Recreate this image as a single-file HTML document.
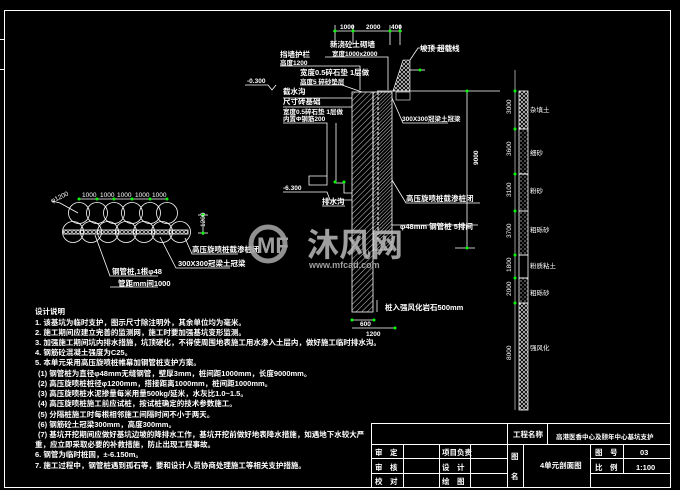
<!DOCTYPE html>
<html><head><meta charset="utf-8"><style>
html,body{margin:0;padding:0;background:#000;}
svg{display:block;}
text{font-family:"Liberation Sans","Noto Sans CJK SC",sans-serif;fill:#fff;}
.n{font-size:7.5px;font-weight:bold;}
.s{font-size:6.5px;}
</style></head><body>
<svg width="680" height="490" viewBox="0 0 680 490" xmlns="http://www.w3.org/2000/svg">
<defs>
<pattern id="h" width="4" height="4" patternUnits="userSpaceOnUse" patternTransform="rotate(45)"><line x1="0" y1="0" x2="0" y2="4" stroke="#fff" stroke-width="0.8"/></pattern>
<pattern id="h2" width="2.5" height="2.5" patternUnits="userSpaceOnUse" patternTransform="rotate(45)"><line x1="0" y1="0" x2="0" y2="2.5" stroke="#fff" stroke-width="0.8"/></pattern>
<pattern id="d" width="4" height="4" patternUnits="userSpaceOnUse"><circle cx="1" cy="1" r="0.6" fill="#fff"/><circle cx="3" cy="3" r="0.5" fill="#fff"/></pattern>
<pattern id="x" width="4" height="4" patternUnits="userSpaceOnUse"><path d="M0 0L4 4M4 0L0 4" stroke="#fff" stroke-width="0.6"/></pattern>
</defs>
<rect width="680" height="490" fill="#000"/>
<g stroke="#fff" fill="none" stroke-width="1">
<rect x="4.5" y="10.5" width="666" height="477"/>
<line x1="0" y1="39.5" x2="4" y2="39.5"/><line x1="0" y1="69.5" x2="4" y2="69.5"/>
<rect x="371.5" y="423.5" width="299" height="64"/>
<line x1="371" y1="444.5" x2="670" y2="444.5"/>
<line x1="371" y1="458.5" x2="507" y2="458.5"/><line x1="371" y1="473.5" x2="507" y2="473.5"/>
<line x1="590" y1="458.5" x2="670" y2="458.5"/><line x1="590" y1="473.5" x2="670" y2="473.5"/>
<line x1="507.5" y1="423" x2="507.5" y2="487"/><line x1="547.5" y1="423" x2="547.5" y2="444"/>
<line x1="403.5" y1="444" x2="403.5" y2="487"/><line x1="439.5" y1="444" x2="439.5" y2="487"/>
<line x1="470.5" y1="444" x2="470.5" y2="487"/><line x1="523.5" y1="444" x2="523.5" y2="487"/>
<line x1="590.5" y1="444" x2="590.5" y2="487"/><line x1="623.5" y1="444" x2="623.5" y2="473"/>
</g>
<g class="n" font-size="7">
<text x="513" y="437">工程名称</text>
<text x="556" y="439" font-size="6.5">高港医香中心及颐年中心基坑支护</text>
<text x="375" y="455">审　定</text><text x="442" y="455">项目负责</text>
<text x="375" y="470">审　核</text><text x="442" y="470">设　计</text>
<text x="375" y="484">校　对</text><text x="442" y="484">绘　图</text>
<text x="511" y="459">图</text><text x="511" y="479">名</text>
<text x="540" y="468">4单元剖面图</text>
<text x="595" y="455">图　号</text><text x="640" y="455">03</text>
<text x="595" y="470">比　例</text><text x="636" y="470">1:100</text>
</g>
<g class="n">
<text x="35" y="314">设计说明</text>
<text x="35" y="325">1. 该基坑为临时支护，图示尺寸除注明外，其余单位均为毫米。</text>
<text x="35" y="335">2. 施工期间应建立完善的监测网，施工时要加强基坑变形监测。</text>
<text x="35" y="345">3. 加强施工期间坑内排水措施，坑顶硬化，不得使周围地表施工用水渗入土层内，做好施工临时排水沟。</text>
<text x="35" y="355">4. 钢筋砼混凝土强度为C25。</text>
<text x="35" y="365">5. 本单元采用高压旋喷桩帷幕加钢管桩支护方案。</text>
<text x="38" y="376">(1) 钢管桩为直径φ48mm无缝钢管，壁厚3mm，桩间距1000mm，长度9000mm。</text>
<text x="38" y="386">(2) 高压旋喷桩桩径φ1200mm，搭接距离1000mm，桩间距1000mm。</text>
<text x="38" y="396">(3) 高压旋喷桩水泥掺量每米用量500kg/延米，水灰比1.0~1.5。</text>
<text x="38" y="406">(4) 高压旋喷桩施工前应试桩，按试桩确定的技术参数施工。</text>
<text x="38" y="417">(5) 分隔桩施工时每根相邻施工间隔时间不小于两天。</text>
<text x="38" y="427">(6) 钢筋砼土冠梁300mm，高度300mm。</text>
<text x="38" y="437">(7) 基坑开挖期间应做好基坑边坡的降排水工作，基坑开挖前做好地表降水措施，如遇地下水较大严</text>
<text x="35" y="447">重，应立即采取必要的补救措施，防止出现工程事故。</text>
<text x="35" y="457">6. 钢管为临时桩固，±-6.150m。</text>
<text x="35" y="468">7. 施工过程中，钢管桩遇到孤石等，要和设计人员协商处理施工等相关支护措施。</text>
</g>
<g stroke="#fff" fill="none" stroke-width="0.8">
<circle cx="79" cy="213" r="10.5"/><circle cx="97" cy="213" r="10.5"/><circle cx="114" cy="213" r="10.5"/><circle cx="132" cy="213" r="10.5"/><circle cx="150" cy="213" r="10.5"/><circle cx="167" cy="213" r="10.5"/>
<circle cx="73" cy="232" r="10.5"/><circle cx="91" cy="232" r="10.5"/><circle cx="108" cy="232" r="10.5"/><circle cx="126" cy="232" r="10.5"/><circle cx="144" cy="232" r="10.5"/><circle cx="162" cy="232" r="10.5"/><circle cx="180" cy="232" r="10.5"/>
<rect x="63" y="230" width="125" height="4" fill="url(#x)"/>
<line x1="79" y1="199" x2="167" y2="199"/>
<line x1="198" y1="215" x2="208" y2="215"/><line x1="198" y1="233" x2="208" y2="233"/><line x1="203" y1="213" x2="203" y2="235"/>
<polyline points="52,201 60,203 78,213"/>
<polyline points="185,238 192,254 238,254"/>
<polyline points="160,237 176,268 230,268"/>
<polyline points="95,235 110,276 158,276"/>
<line x1="110" y1="287" x2="158" y2="287"/>
</g>
<g fill="#0f0"><circle cx="79" cy="199" r="1.5"/><circle cx="97" cy="199" r="1.5"/><circle cx="114" cy="199" r="1.5"/><circle cx="132" cy="199" r="1.5"/><circle cx="150" cy="199" r="1.5"/><circle cx="167" cy="199" r="1.5"/><circle cx="203" cy="215" r="1.5"/><circle cx="203" cy="233" r="1.5"/></g>
<g class="s">
<text x="82" y="197">1000</text><text x="100" y="197">1000</text><text x="117" y="197">1000</text><text x="135" y="197">1000</text><text x="152" y="197">1000</text>
<text x="52" y="203" transform="rotate(-25 52 203)">φ1200</text>
<text x="205" y="227" transform="rotate(-90 205 227)">1200</text>
<text x="192" y="252" class="n">高压旋喷桩截渗桩闭</text>
<text x="178" y="266" class="n">300X300冠梁土冠梁</text>
<text x="112" y="274" class="n">钢管桩,1根φ48</text>
<text x="118" y="286" class="n">管距mm间1000</text>
</g>
<rect x="352" y="92" width="21" height="220" fill="url(#h)" stroke="#fff" stroke-width="0.8"/>
<rect x="373" y="92" width="19" height="158" fill="url(#h2)" stroke="#fff" stroke-width="0.8"/>
<line x1="378" y1="92" x2="378" y2="240" stroke="#fff" stroke-dasharray="3,2"/>
<polygon points="393,91 403,60 410,60 410,91" fill="url(#x)" stroke="#fff" stroke-width="0.6"/>
<rect x="396" y="92" width="14" height="8" fill="none" stroke="#fff" stroke-width="0.6"/>
<g stroke="#fff" fill="none" stroke-width="0.8">
<line x1="377" y1="91" x2="500" y2="91"/>
<line x1="335" y1="25" x2="335" y2="45"/><line x1="353" y1="25" x2="353" y2="45"/><line x1="390" y1="25" x2="390" y2="45"/><line x1="400" y1="25" x2="400" y2="45"/>
<line x1="333" y1="31" x2="402" y2="31"/>
<polyline points="325,57 388,57 388,90"/>
<polyline points="280,66 360,66 360,90"/>
<polyline points="300,85 342,85 362,92"/>
<polyline points="245,85 268,85 272,90 276,85"/>
<polyline points="283,98 352,98"/><polyline points="283,107 352,107"/>
<polyline points="283,123 327,123 327,185 309,185 309,176 327,176"/>
<polyline points="336,123 336,183 344,183 344,193 352,193"/>
<polyline points="283,192 327,192 330,200 352,200"/>
<polyline points="322,206 345,206"/>
<polyline points="392,98 403,123 448,123"/>
<polyline points="392,180 406,203 480,203"/>
<polyline points="392,225 478,225"/>
<line x1="467" y1="91" x2="467" y2="248"/><line x1="455" y1="248" x2="475" y2="248"/>
<polyline points="410,60 418,48 455,48"/>
<line x1="410" y1="70" x2="425" y2="70"/>
<line x1="352" y1="320" x2="374" y2="320"/><line x1="352" y1="328" x2="395" y2="328"/>
<line x1="377" y1="300" x2="377" y2="312"/>
</g>
<g fill="#0f0"><circle cx="335" cy="31" r="1.5"/><circle cx="353" cy="31" r="1.5"/><circle cx="390" cy="31" r="1.5"/><circle cx="400" cy="31" r="1.5"/><circle cx="467" cy="91" r="1.5"/><circle cx="467" cy="248" r="1.5"/><circle cx="352" cy="320" r="1.5"/><circle cx="374" cy="320" r="1.5"/><circle cx="395" cy="328" r="1.5"/><circle cx="335" cy="182" r="1.5"/><circle cx="344" cy="182" r="1.5"/><circle cx="420" cy="70" r="1.5"/></g>
<g class="n" font-size="7">
<text x="340" y="29" class="s">1000</text><text x="366" y="29" class="s">2000</text><text x="391" y="29" class="s">400</text>
<text x="330" y="47">新浇砼土砌墙</text><text x="332" y="56" class="s">宽度1000x2000</text>
<text x="280" y="57">挡墙护栏</text><text x="280" y="65" class="s">高度1200</text>
<text x="300" y="75">宽度0.5碎石垫 1层做</text><text x="300" y="84" class="s">高度5 碎砂垫层</text>
<text x="247" y="83" class="s">-0.300</text>
<text x="283" y="94">截水沟</text><text x="283" y="104">尺寸砖基础</text>
<text x="283" y="114" class="s">宽度0.5碎石垫 1层做</text><text x="283" y="121" class="s">内置Φ钢筋200</text>
<text x="283" y="190" class="s">-6.300</text><text x="322" y="204">排水沟</text>
<text x="402" y="121" class="s">300X300冠梁土冠梁</text>
<text x="406" y="201">高压旋喷桩截渗桩闭</text>
<text x="400" y="229">φ48mm 钢管桩 5排间</text>
<text x="385" y="310">桩入强风化岩石500mm</text>
<text x="360" y="326" class="s">600</text><text x="366" y="336" class="s">1200</text>
<text x="420" y="51">坡顶 超载线</text>
<text x="478" y="165" class="s" transform="rotate(-90 478 165)">9000</text>
</g>
<rect x="519" y="91" width="9" height="38" fill="url(#x)" stroke="#fff" stroke-width="0.8"/>
<rect x="519" y="129" width="9" height="45" fill="url(#d)" stroke="#fff" stroke-width="0.8"/>
<rect x="519" y="174" width="9" height="37" fill="url(#d)" stroke="#fff" stroke-width="0.8"/>
<rect x="519" y="211" width="9" height="44" fill="url(#d)" stroke="#fff" stroke-width="0.8"/>
<rect x="519" y="255" width="9" height="23" fill="none" stroke="#fff" stroke-width="0.8"/>
<rect x="519" y="278" width="9" height="25" fill="url(#d)" stroke="#fff" stroke-width="0.8"/>
<rect x="519" y="303" width="9" height="107" fill="url(#x)" stroke="#fff" stroke-width="0.8"/>
<line x1="515" y1="70" x2="515" y2="410" stroke="#fff" stroke-width="0.6"/>
<g fill="#0f0"><circle cx="515" cy="91" r="1.5"/><circle cx="515" cy="129" r="1.5"/><circle cx="515" cy="174" r="1.5"/><circle cx="515" cy="211" r="1.5"/><circle cx="515" cy="255" r="1.5"/><circle cx="515" cy="278" r="1.5"/><circle cx="515" cy="303" r="1.5"/></g>
<g class="s">
<text x="530" y="112">杂填土</text><text x="530" y="155">细砂</text><text x="530" y="193">粉砂</text><text x="530" y="232">粗砾砂</text><text x="530" y="268">粉质粘土</text><text x="530" y="295">粗砾砂</text><text x="530" y="350">强风化</text>
<text x="511" y="114" transform="rotate(-90 511 114)">3000</text><text x="511" y="156" transform="rotate(-90 511 156)">3600</text><text x="511" y="197" transform="rotate(-90 511 197)">3100</text><text x="511" y="238" transform="rotate(-90 511 238)">3700</text><text x="511" y="272" transform="rotate(-90 511 272)">1800</text><text x="511" y="296" transform="rotate(-90 511 296)">2000</text><text x="511" y="360" transform="rotate(-90 511 360)">8000</text>
</g>
<g opacity="0.85">
<circle cx="268" cy="244" r="17" fill="none" stroke="#aaa" stroke-width="5"/>
<text x="257" y="253" font-size="22" font-weight="bold" style="fill:#bbb">MF</text>
<text x="307" y="256" font-size="32" font-weight="bold" style="fill:#bbb;font-family:'Noto Sans CJK SC',sans-serif">沐风网</text>
<text x="309" y="268" font-size="9" font-weight="bold" style="fill:#bbb">www.mfcad.com</text>
</g>
</svg>
</body></html>
